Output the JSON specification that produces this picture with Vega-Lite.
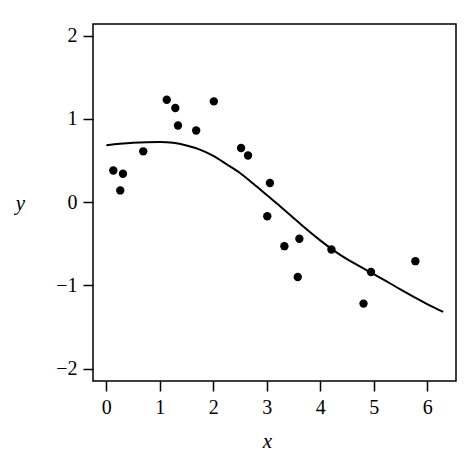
{
  "$schema": "https://vega.github.io/schema/vega-lite/v6.json",
  "width": 363,
  "height": 357,
  "autosize": {"type": "none"},
  "padding": {"left": 93, "top": 24, "right": 18, "bottom": 93},
  "background": "white",
  "config": {
    "view": {"stroke": "black", "strokeWidth": 1.5},
    "axis": {
      "domain": false,
      "grid": false,
      "tickColor": "black",
      "tickWidth": 1.5,
      "tickSize": 10,
      "labelFont": "Liberation Serif",
      "labelFontSize": 20,
      "labelColor": "black",
      "titleFont": "Liberation Serif",
      "titleFontSize": 21,
      "titleFontStyle": "italic",
      "titleFontWeight": "normal",
      "titleColor": "black"
    }
  },
  "datasets": {
    "pts": [
      {"x": 0.13, "y": 0.38}, {"x": 0.31, "y": 0.34}, {"x": 0.26, "y": 0.14},
      {"x": 0.69, "y": 0.61}, {"x": 1.13, "y": 1.23}, {"x": 1.29, "y": 1.13},
      {"x": 1.34, "y": 0.92}, {"x": 1.68, "y": 0.86}, {"x": 2.01, "y": 1.21},
      {"x": 2.52, "y": 0.65}, {"x": 2.65, "y": 0.56}, {"x": 3.06, "y": 0.23},
      {"x": 3.01, "y": -0.17}, {"x": 3.61, "y": -0.44}, {"x": 3.33, "y": -0.53},
      {"x": 4.21, "y": -0.57}, {"x": 3.58, "y": -0.9}, {"x": 4.95, "y": -0.84},
      {"x": 5.78, "y": -0.71}, {"x": 4.81, "y": -1.22}
    ],
    "curve": [
      {"x": 0.0, "y": 0.683}, {"x": 0.25, "y": 0.70}, {"x": 0.5, "y": 0.713},
      {"x": 0.75, "y": 0.72}, {"x": 1.0, "y": 0.722}, {"x": 1.25, "y": 0.712},
      {"x": 1.5, "y": 0.68}, {"x": 1.75, "y": 0.63}, {"x": 2.0, "y": 0.555},
      {"x": 2.25, "y": 0.455}, {"x": 2.5, "y": 0.35}, {"x": 2.75, "y": 0.22},
      {"x": 3.0, "y": 0.085}, {"x": 3.25, "y": -0.05}, {"x": 3.5, "y": -0.19},
      {"x": 3.75, "y": -0.33}, {"x": 4.0, "y": -0.46}, {"x": 4.25, "y": -0.58},
      {"x": 4.5, "y": -0.685}, {"x": 4.75, "y": -0.775}, {"x": 5.0, "y": -0.865},
      {"x": 5.25, "y": -0.955}, {"x": 5.5, "y": -1.05}, {"x": 5.75, "y": -1.14},
      {"x": 6.0, "y": -1.225}, {"x": 6.3, "y": -1.32}
    ]
  },
  "layer": [
    {
      "data": {"name": "curve"},
      "mark": {"type": "line", "color": "black", "strokeWidth": 2, "interpolate": "monotone"},
      "encoding": {
        "x": {"field": "x", "type": "quantitative", "scale": {"domain": [-0.25, 6.54], "nice": false, "zero": false},
              "axis": {"values": [0,1,2,3,4,5,6], "format": "d", "title": "x", "labelPadding": 6, "titleX": 174, "titleY": 60, "titleBaseline": "middle", "titleAnchor": "middle"}},
        "y": {"field": "y", "type": "quantitative", "scale": {"domain": [-2.15, 2.14], "nice": false, "zero": false},
              "axis": {"values": [-2,-1,0,1,2], "format": "d", "title": "y", "labelPadding": 6, "titleAngle": 0, "titleX": -73, "titleY": 179, "titleBaseline": "middle", "titleAlign": "center"}}
      }
    },
    {
      "data": {"name": "pts"},
      "mark": {"type": "circle", "color": "black", "size": 70, "opacity": 1},
      "encoding": {
        "x": {"field": "x", "type": "quantitative"},
        "y": {"field": "y", "type": "quantitative"}
      }
    }
  ]
}
